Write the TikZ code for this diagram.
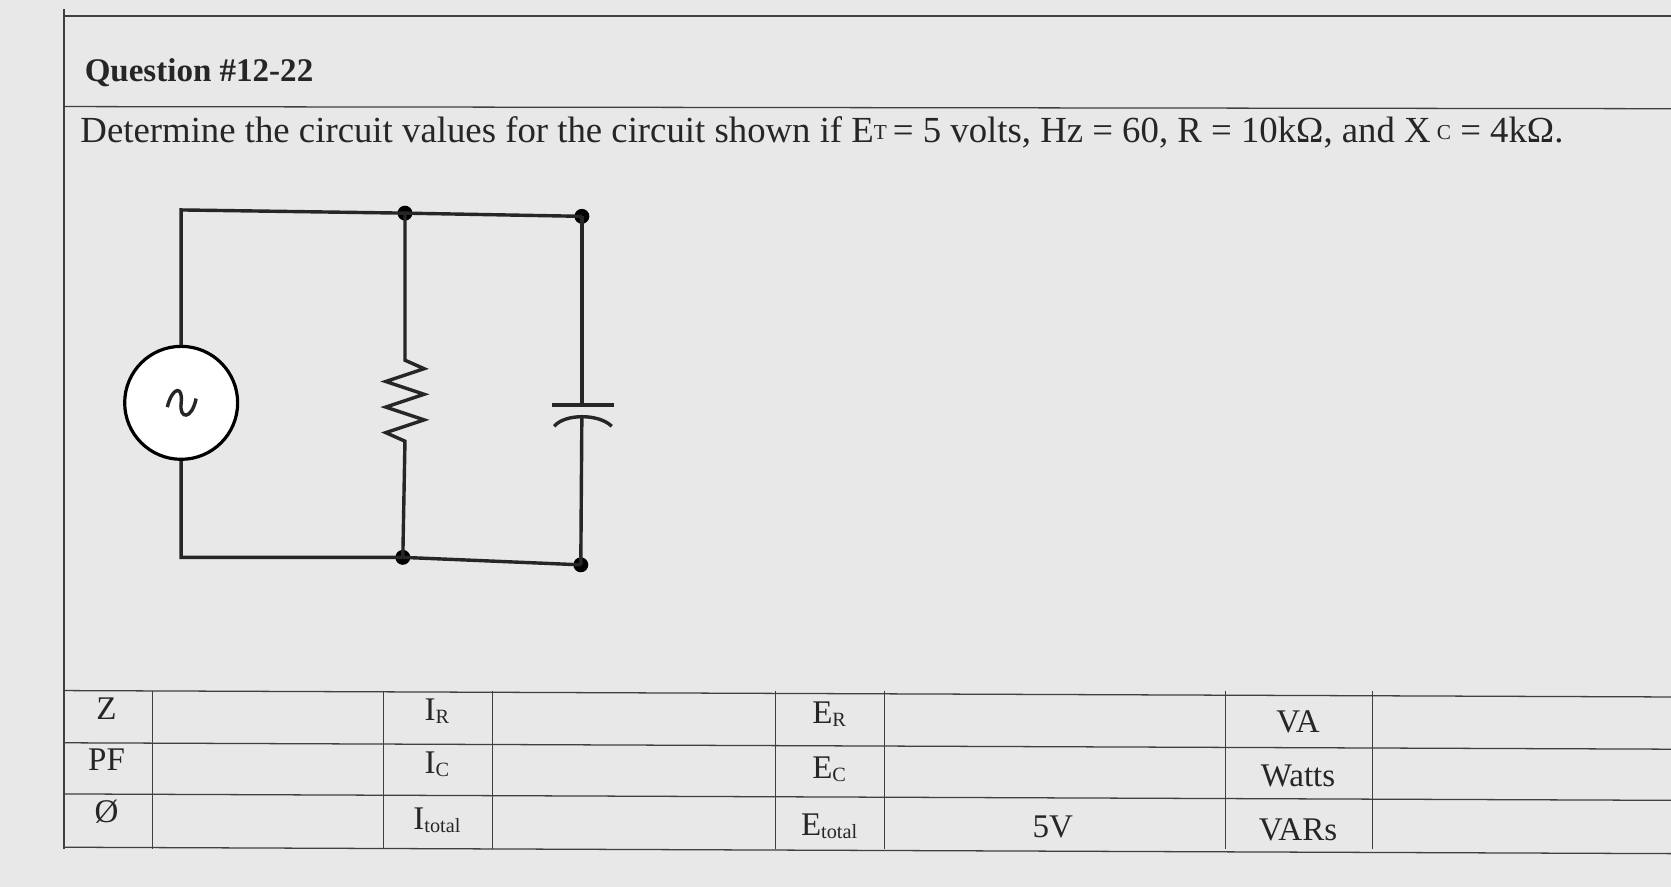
\documentclass[tikz,border=0pt]{standalone}
\usepackage{fontspec}
\setmainfont{Liberation Serif}
\newcommand{\sbs}[1]{\raisebox{-0.2ex}{\fontsize{19}{20}\selectfont #1}}
\newcommand{\sbt}[1]{\raisebox{0.15ex}{\fontsize{20}{21}\selectfont #1}}
\begin{document}
\begin{tikzpicture}[x=1pt,y=-1pt,
  ln/.style={draw=black!75,line width=1.2pt},
  wire/.style={draw=black!85,line width=3.2pt},
  dot/.style={circle,fill=black,inner sep=0pt,minimum size=14pt},
  tx/.style={font=\fontsize{34.5}{36}\selectfont,text=black!85},
  cell/.style={font=\fontsize{31}{33}\selectfont,text=black!85,anchor=center}]
\fill[black!9] (0,0) rectangle (1568,832);
\useasboundingbox (0,0) rectangle (1568,832);
% frame
\draw[ln] (60,8) -- (60,795);
\draw[ln] (60,15) -- (1568,15);
\draw[ln] (60,100) -- (1568,102);
\node[tx,font=\bfseries\fontsize{31}{33}\selectfont,anchor=west] (q) at (76,68) {Question \#12-22};
\node[tx,anchor=west] (t) at (72,124) {Determine the circuit values for the circuit shown if E\sbt{T}\,= 5 volts, Hz = 60, R = 10kΩ, and X\,\sbt{C} = 4kΩ.};
% circuit
\coordinate (tl) at (170,197);
\coordinate (bl) at (170,523);
\node[dot] (tr) at (380,200) {};
\node[dot] (tc) at (546,203) {};
\node[dot] (br) at (378,523) {};
\node[dot] (bc) at (545,530) {};
\node[circle,draw=black,line width=3pt,minimum size=106pt,fill=white] (src) at (170,378) {};
\draw[wire] (src.north) -- (tl) -- (tr.center) -- (tc.center);
\draw[wire] (src.south) -- (bl) -- (br.center) -- (bc.center);
\draw[wire] (157,382) .. controls (162,362) and (172,362) .. (170,378) .. controls (168,394) and (180,394) .. (184,374);
\draw[wire] (tr.center) -- (380,338) -- (398,346) -- (362,358) -- (398,370) -- (362,382) -- (398,394) -- (362,406) -- (380,414) -- (br.center);
\draw[wire] (tc.center) -- (546,380);
\draw[wire] (518,380) -- (576,380);
\draw[wire] (520,400) .. controls (530,388) and (562,388) .. (574,400);
\draw[wire] (546,390) -- (bc.center);
% table
\foreach \y in {648,697,745,795} \draw[ln] (60,\y) -- (1568,\y+6);
\foreach \x in {60,143,360,462,728,830,1150,1288} \draw[ln] (\x,648) -- (\x,797);
\node[cell] (z) at (100,665) {Z};
\node[cell] (pf) at (100,713) {PF};
\node[cell] (ph) at (100,762) {Ø};
\node[cell] (ir) at (410,667) {I\sbs{R}};
\node[cell] (ic) at (410,717) {I\sbs{C}};
\node[cell] (it) at (410,770) {I\sbs{total}};
\node[cell] (er) at (778,670) {E\sbs{R}};
\node[cell] (ec) at (778,722) {E\sbs{C}};
\node[cell] (et) at (778,775) {E\sbs{total}};
\node[cell] (v5) at (988,776) {5V};
\node[cell] (va) at (1218,677) {VA};
\node[cell] (w) at (1218,728) {Watts};
\node[cell] (vr) at (1218,779) {VARs};
\end{tikzpicture}
\end{document}
